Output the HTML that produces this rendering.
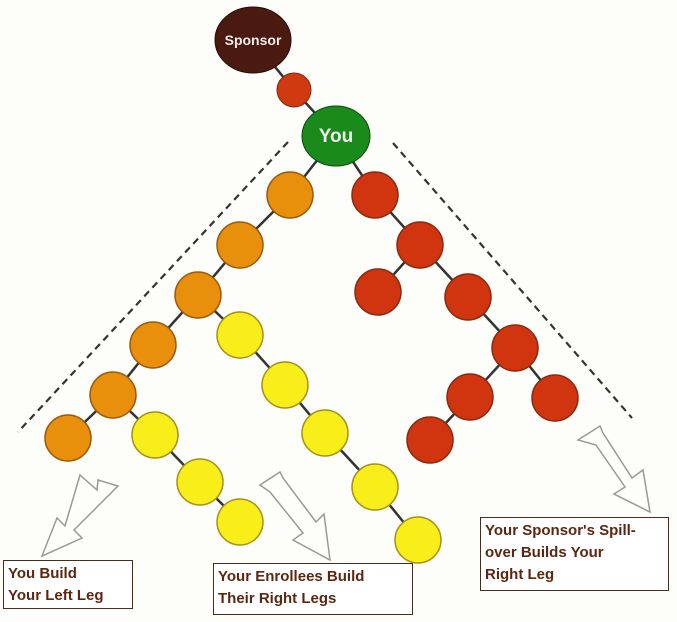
<!DOCTYPE html><html><head><style>
body{margin:0;width:677px;height:622px;background:#fdfdf9;overflow:hidden;font-family:"Liberation Sans",sans-serif}
.b{position:absolute;border:1.5px solid #4a2a1a;background:#fff;color:#5a2810;font-weight:bold;font-size:15px;line-height:22px;padding:2px 4px;box-sizing:border-box}
</style></head><body>
<svg width="677" height="622" style="position:absolute;left:0;top:0">
<g stroke="#333" stroke-width="2.5" fill="none">
<polyline points="253,40 294,90 336,136 290,195 240,245 198,295 153,345 113,395 68,438"/>
<polyline points="198,295 240,335 285,385 325,433 375,487 418,540"/>
<polyline points="113,395 155,435 200,482 240,522"/>
<polyline points="336,136 375,195 420,245 378,292"/>
<polyline points="420,245 468,297 515,348 470,397 430,440"/>
<line x1="515" y1="348" x2="555" y2="398"/>
</g>
<g stroke="#333" stroke-width="2.2" stroke-dasharray="7,5">
<line x1="288" y1="142" x2="18" y2="432"/><line x1="393" y1="143" x2="632" y2="418"/>
</g>
<ellipse cx="253" cy="40" rx="38" ry="33" fill="#4a1a10" stroke="#2a0a05"/>
<text x="253" y="45" fill="#eee" font-size="14" font-weight="bold" text-anchor="middle" font-family="Liberation Sans">Sponsor</text>
<circle cx="294" cy="90" r="17" fill="#d03a10" stroke="#7a2a10"/>
<ellipse cx="336" cy="136" rx="34" ry="30" fill="#1a8a1a" stroke="#0a4a0a"/>
<text x="336" y="142" fill="#eee" font-size="19" font-weight="bold" text-anchor="middle" font-family="Liberation Sans">You</text>
<g fill="#e8900c" stroke="#9a5a10" stroke-width="1.5">
<circle cx="290" cy="195" r="23"/><circle cx="240" cy="245" r="23"/><circle cx="198" cy="295" r="23"/><circle cx="153" cy="345" r="23"/><circle cx="113" cy="395" r="23"/><circle cx="68" cy="438" r="23"/></g>
<g fill="#d03510" stroke="#8a2a10" stroke-width="1.5">
<circle cx="375" cy="195" r="23"/><circle cx="420" cy="245" r="23"/><circle cx="378" cy="292" r="23"/><circle cx="468" cy="297" r="23"/><circle cx="515" cy="348" r="23"/><circle cx="470" cy="397" r="23"/><circle cx="555" cy="398" r="23"/><circle cx="430" cy="440" r="23"/></g>
<g fill="#f8ee1a" stroke="#a8901a" stroke-width="1.5">
<circle cx="240" cy="335" r="23"/><circle cx="285" cy="385" r="23"/><circle cx="325" cy="433" r="23"/><circle cx="375" cy="487" r="23"/><circle cx="418" cy="540" r="23"/>
<circle cx="155" cy="435" r="23"/><circle cx="200" cy="482" r="23"/><circle cx="240" cy="522" r="23"/></g>
<g fill="none" stroke="#999" stroke-width="1.5">
<polygon points="80,475 97,490 98,480 118,486 74,530 82,538 42,556 57,518 65,526"/>
<polygon points="260,485 280,472 283,478 316,522 324,514 330,560 293,540 303,533 270,492"/>
<polygon points="578,440 600,426 603,433 632,478 643,470 650,512 614,494 625,487 596,445"/>
</g>
</svg>
<div class="b" style="left:3px;top:560px;width:130px;height:49px">You Build<br>Your Left Leg</div>
<div class="b" style="left:213px;top:563px;width:200px;height:52px">Your Enrollees Build<br>Their Right Legs</div>
<div class="b" style="left:480px;top:517px;width:189px;height:74px">Your Sponsor's Spill-<br>over Builds Your<br>Right Leg</div>
</body></html>
